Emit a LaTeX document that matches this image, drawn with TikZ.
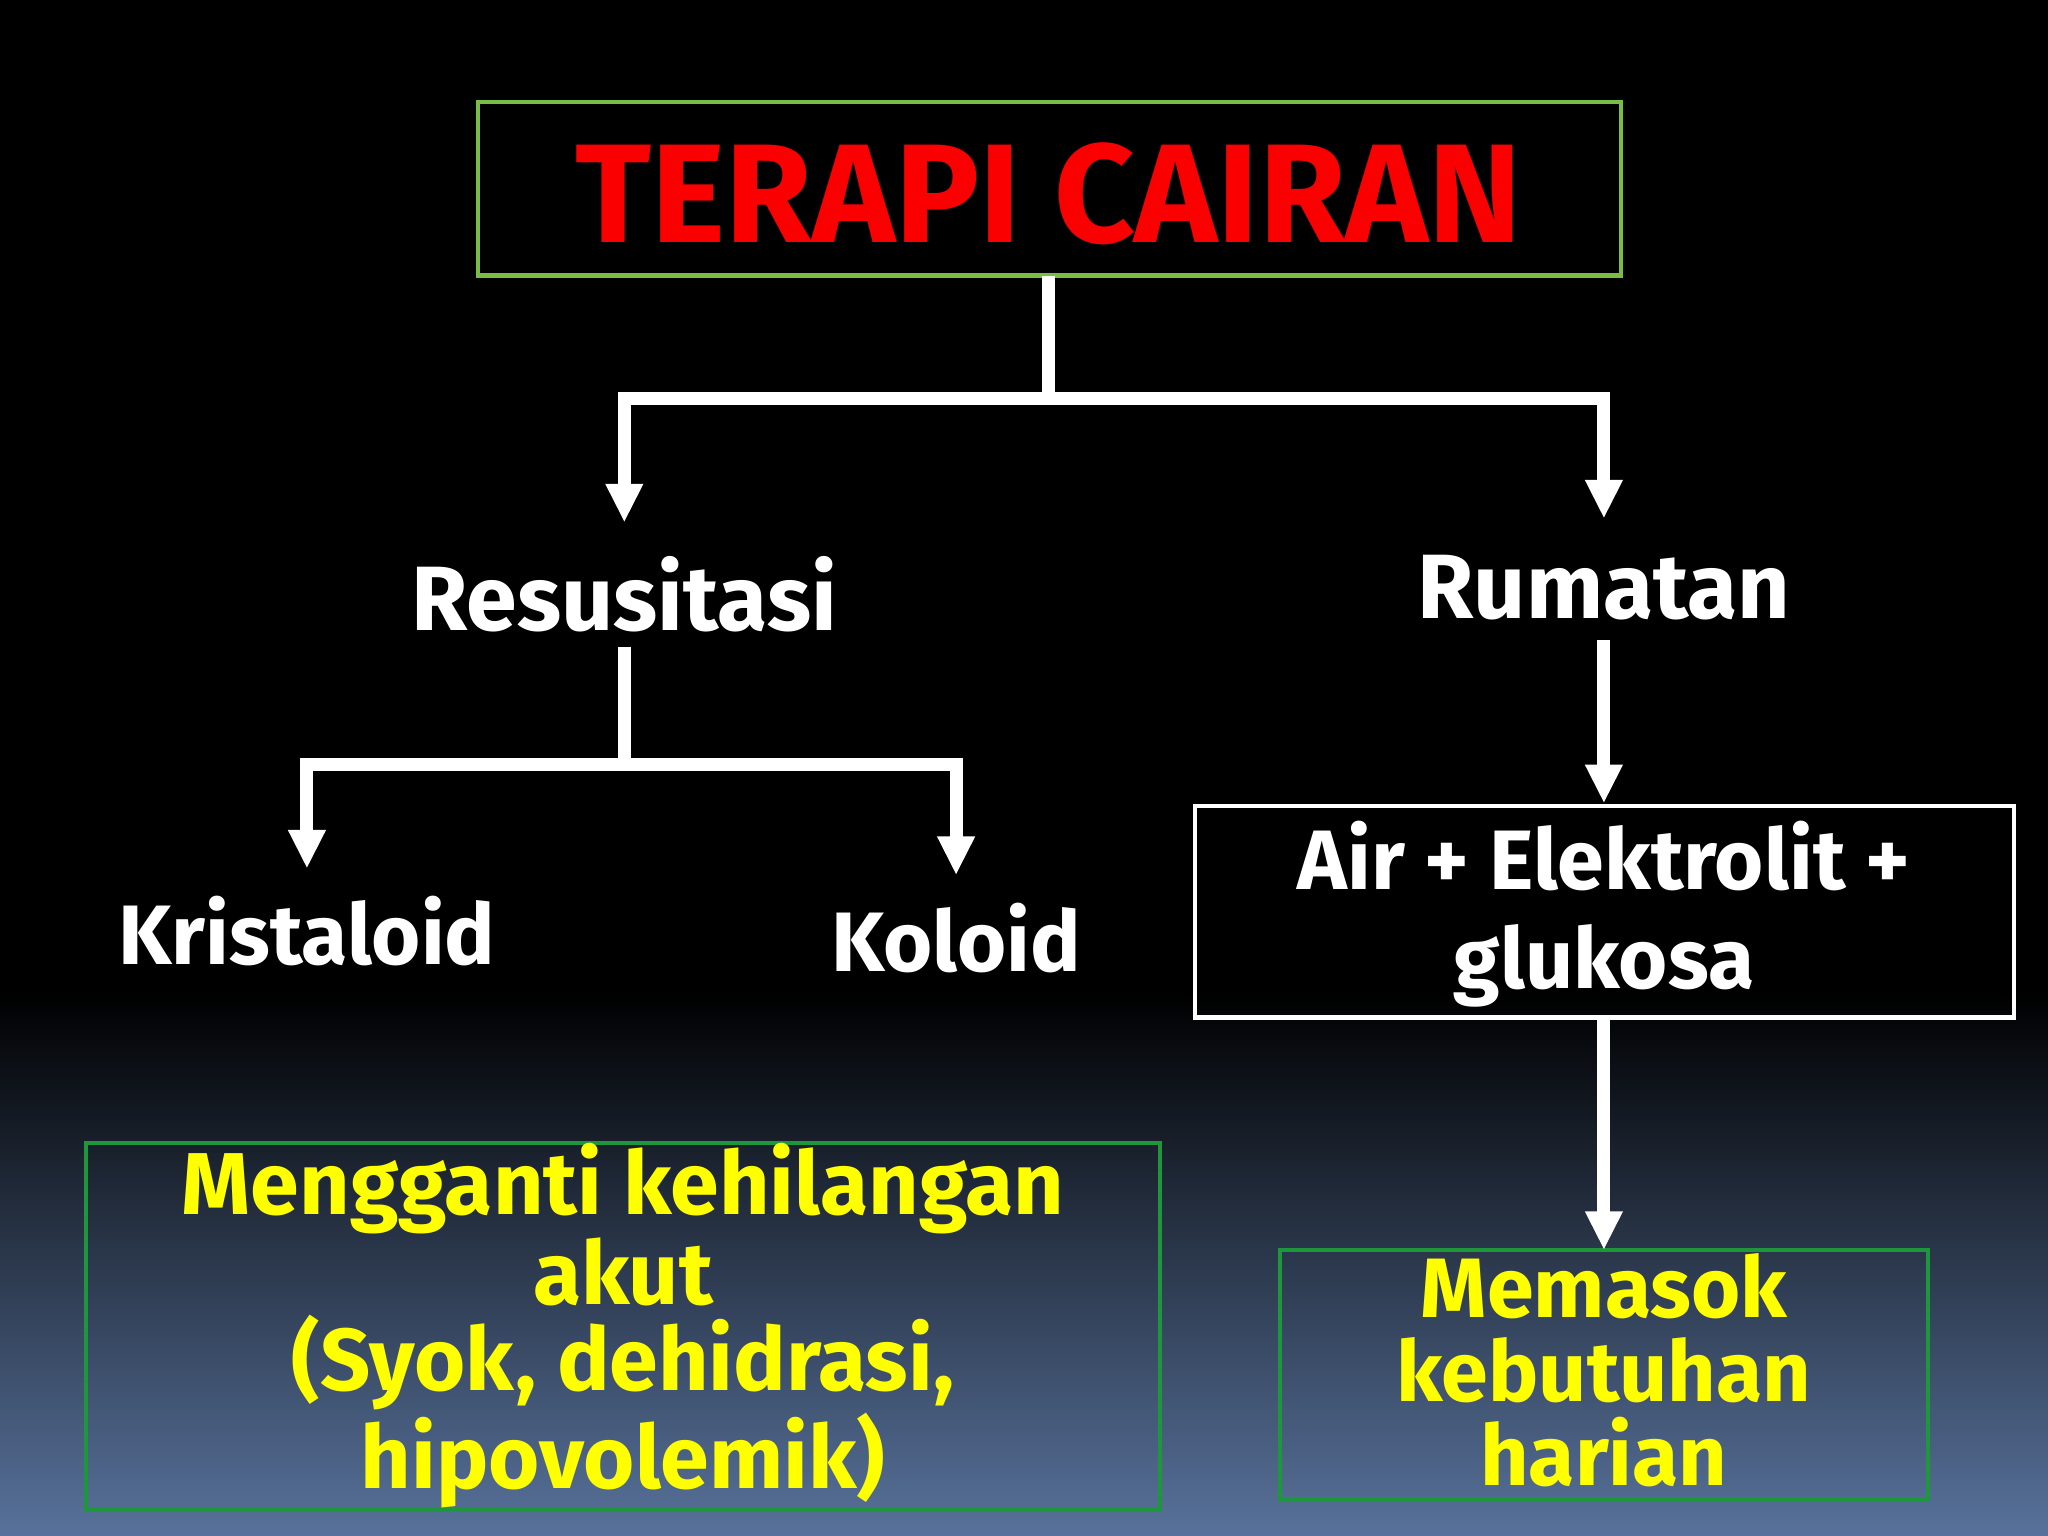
\documentclass[tikz,border=0pt]{standalone}
\usepackage{fontspec}
\setmainfont{Fira Sans}
\usetikzlibrary{positioning,calc,arrows.meta}
\definecolor{boxgreen}{RGB}{120,190,70}
\definecolor{darkgreen}{RGB}{30,150,60}
\definecolor{titlered}{RGB}{250,0,0}
\definecolor{textyellow}{RGB}{255,255,0}
\definecolor{bgblue}{RGB}{88,114,155}
\tikzset{
    conn/.style={white, line width=3.7pt, -{Triangle[width=10pt,length=11pt]}},
    label/.style={white, font=\bfseries\fontsize{26}{30}\selectfont},
    yellowtext/.style={textyellow, align=center, font=\bfseries\fontsize{24}{24}\selectfont}
}
\begin{document}
\begin{tikzpicture}[x=0.01306cm, y=-0.01306cm]
    % Background
    \fill[black] (0,0) rectangle (1568,760);
    \shade[top color=black, bottom color=bgblue] (0,760) rectangle (1568,1176);
    \useasboundingbox (0,0) rectangle (1568,1176);

    % Title
    \draw[boxgreen, line width=1.2pt] (366,78) rectangle (1241,211);
    \node[titlered, font=\bfseries\fontsize{40}{44}\selectfont] (title) at (803,148) {TERAPI CAIRAN};
    \coordinate (titlebot) at (803,211);
    \coordinate (jtop) at (803,305);

    % Level two
    \node[label] (resus) at (478,455) {Resusitasi};
    \node[label] (rumat) at (1228,450) {Rumatan};
    \coordinate (resustop) at (478,400);
    \coordinate (rumattop) at (1228,397);
    \draw[conn] (titlebot) -- (jtop) -| (resustop);
    \draw[conn] (jtop) -| (rumattop);

    % Resusitasi branch
    \node[label, font=\bfseries\fontsize{24}{28}\selectfont] (kris) at (235,713) {Kristaloid};
    \node[label, font=\bfseries\fontsize{24}{28}\selectfont] (kol) at (732,718) {Koloid};
    \coordinate (resusbot) at (478,495);
    \coordinate (jres) at (478,585);
    \coordinate (kristop) at (235,665);
    \coordinate (koltop) at (732,670);
    \draw[conn] (resusbot) -- (jres) -| (kristop);
    \draw[conn] (jres) -| (koltop);

    % Rumatan branch
    \draw[white, line width=1.2pt] (915,617) rectangle (1542,779);
    \node[label, align=center, font=\bfseries\fontsize{24}{28}\selectfont] (air) at (1228,700) {Air + Elektrolit +\\glukosa};
    \coordinate (rumatbot) at (1228,490);
    \coordinate (airtop) at (1228,615);
    \coordinate (airbot) at (1228,779);
    \draw[conn] (rumatbot) -- (airtop);

    \draw[darkgreen, line width=1.2pt] (980,957) rectangle (1476,1148);
    \node[yellowtext] (pasok) at (1228,1049) {Memasok\\kebutuhan\\harian};
    \coordinate (pasoktop) at (1228,957);
    \draw[conn] (airbot) -- (pasoktop);

    % Resusitasi description
    \draw[darkgreen, line width=1.2pt] (66,875) rectangle (888,1156);
    \node[yellowtext, font=\bfseries\fontsize{25}{24.5}\selectfont] (ganti) at (477,1015) {Mengganti kehilangan\\akut\\(Syok, dehidrasi,\\hipovolemik)};
\end{tikzpicture}
\end{document}
